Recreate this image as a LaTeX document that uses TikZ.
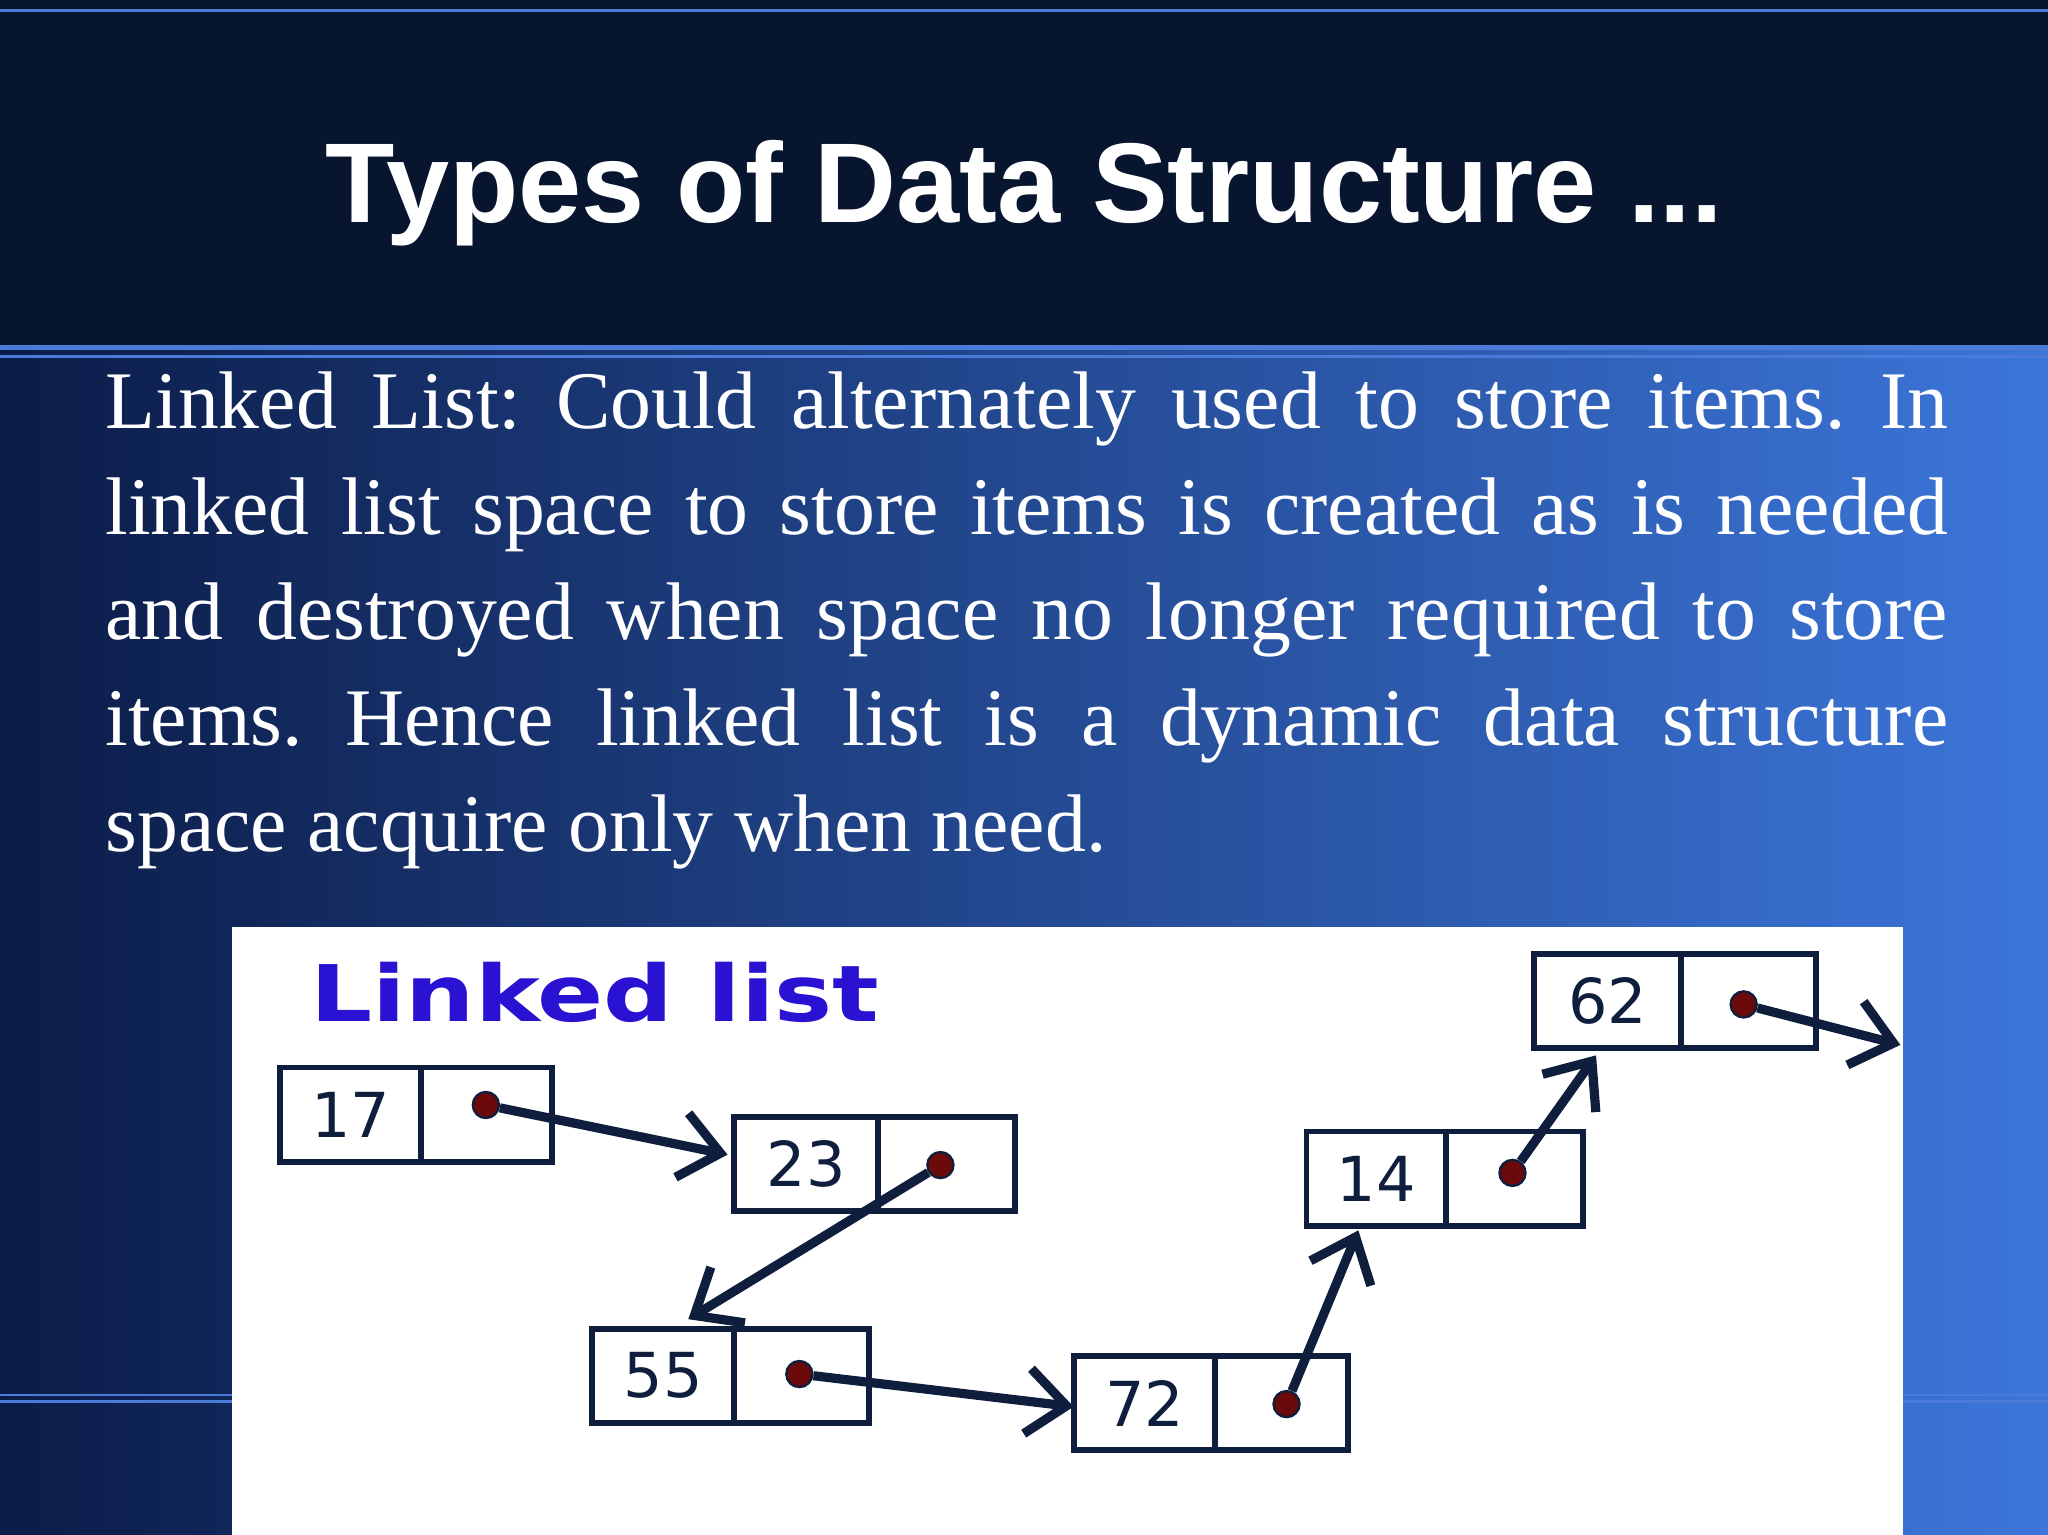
\documentclass[tikz,border=0pt]{standalone}
\usepackage{fontspec}
\setmainfont{Liberation Serif}
\newfontfamily\titlefont{Liberation Sans}
\newfontfamily\djv{DejaVu Sans}
\usetikzlibrary{arrows.meta}
\definecolor{navy}{HTML}{08152E}
\definecolor{bgleft}{HTML}{0B1C48}
\definecolor{bgright}{HTML}{3C76DA}
\definecolor{rule}{HTML}{4A7BD8}
\definecolor{ink}{HTML}{0E1E3C}
\definecolor{dotred}{HTML}{6B0A0A}
\definecolor{lbl}{HTML}{2A12D2}
\begin{document}
\begin{tikzpicture}[x=0.01cm,y=-0.01cm,
  cell/.style={draw=ink,line width=1.3pt,minimum height=0.72cm,inner sep=0pt,anchor=north west,font=\djv\fontsize{13.5}{13.5}\selectfont,text=ink},
  dotn/.style={circle,fill=dotred,draw=ink,line width=0.5pt,minimum size=0.2cm,inner sep=0pt},
  link/.style={draw=ink,line width=2pt,-{Straight Barb[length=0.3cm,width=0.5cm,line width=2pt]}}]
\useasboundingbox (0,0) rectangle (1568,1175);
\shade[left color=bgleft,right color=bgright] (0,268) rectangle (1568,1175);
\fill[navy] (0,0) rectangle (1568,268);
\draw[rule,line width=0.6pt] (0,8) -- (1568,8);
\draw[rule,line width=1pt] (0,266) -- (1568,266);
\draw[rule,line width=0.6pt] (0,273) -- (1568,273);
\draw[rule,line width=0.6pt] (0,1068) -- (1568,1068);
\draw[rule,line width=0.6pt] (0,1073) -- (1568,1073);
\node[text=white,font=\titlefont\bfseries\fontsize{24.7}{24.7}\selectfont] (title) at (784,148) {Types of Data Structure ...};
\node[anchor=north west,text=white,text width=14.1cm,align=justify,inner sep=0pt,
  font=\fontsize{17.8}{23}\selectfont] (para) at (80,284)
  {\frenchspacing Linked List: Could alternately used to store items. In\linebreak linked list space to store items is created as is needed\linebreak and destroyed when space no longer required to store\linebreak items. Hence linked list is a dynamic data structure\linebreak space acquire only when need.};
\fill[white] (178,710) rectangle (1457,1175);
\node[anchor=west,text=lbl,font=\djv\bfseries\fontsize{17}{17}\selectfont,xscale=1.25] (title2) at (222,760) {Linked list};
% boxes
\node[cell,minimum width=1.08cm] (v17) at (212,815) {17};
\node[cell,minimum width=1.0cm] (p17) at (320,815) {};
\node[cell,minimum width=1.1cm] (v23) at (560,853) {23};
\node[cell,minimum width=1.05cm] (p23) at (670,853) {};
\node[cell,minimum width=1.09cm] (v55) at (451,1015) {55};
\node[cell,minimum width=1.03cm] (p55) at (560,1015) {};
\node[cell,minimum width=1.08cm] (v72) at (820,1036) {72};
\node[cell,minimum width=1.02cm] (p72) at (928,1036) {};
\node[cell,minimum width=1.07cm] (v14) at (998,864) {14};
\node[cell,minimum width=1.05cm] (p14) at (1105,864) {};
\node[cell,minimum width=1.13cm] (v62) at (1172,728) {62};
\node[cell,minimum width=1.03cm] (p62) at (1285,728) {};
% dots
\node[dotn] (d17) at (372,846) {};
\node[dotn] (d23) at (720,892) {};
\node[dotn] (d55) at (612,1052) {};
\node[dotn] (d72) at (985,1075) {};
\node[dotn] (d14) at (1158,898) {};
\node[dotn] (d62) at (1335,769) {};
\coordinate (t23) at (557,884);
\coordinate (t55) at (527,1010);
\coordinate (t72) at (822,1077);
\coordinate (t14) at (1040,942);
\coordinate (t62) at (1222,808);
\coordinate (tend) at (1455,800);
\draw[link] (d17) -- (t23);
\draw[link] (d23) -- (t55);
\draw[link] (d55) -- (t72);
\draw[link] (d72) -- (t14);
\draw[link] (d14) -- (t62);
\draw[link] (d62) -- (tend);
\end{tikzpicture}
\end{document}
